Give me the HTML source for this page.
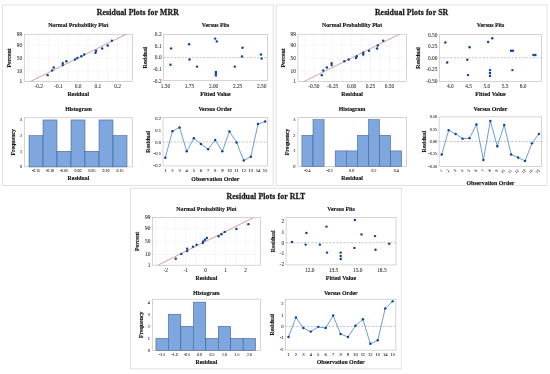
<!DOCTYPE html>
<html><head><meta charset="utf-8"><title>Residual Plots</title>
<style>
html,body{margin:0;padding:0;background:#fff;}
svg{display:block;font-family:'Liberation Serif', serif;}
</style></head><body>
<svg width="550" height="374" viewBox="0 0 550 374" style="filter:blur(0.35px)">
<rect x="0" y="0" width="550" height="374" fill="#ffffff"/>
<rect x="2.40" y="4.90" width="270.80" height="180.60" fill="#ffffff" stroke="#dedede" stroke-width="0.9"/>
<text x="137.80" y="15.10" font-size="7.75" text-anchor="middle" fill="#1a1a1a" font-weight="bold" stroke="#1a1a1a" stroke-width="0.26" letter-spacing="0.13">Residual Plots for MRR</text>
<rect x="24.25" y="34.25" width="108.05" height="47.35" fill="#fff" stroke="#b8b8b8" stroke-width="0.6"/>
<text x="78.28" y="27.20" font-size="5.85" text-anchor="middle" fill="#1a1a1a" font-weight="bold" stroke="#1a1a1a" stroke-width="0.16">Normal Probability Plot</text>
<line x1="24.25" y1="44.88" x2="132.30" y2="44.88" stroke="#dcdcdc" stroke-width="0.5" stroke-dasharray="1.2 1.2"/>
<line x1="24.25" y1="57.92" x2="132.30" y2="57.92" stroke="#dcdcdc" stroke-width="0.5" stroke-dasharray="1.2 1.2"/>
<line x1="24.25" y1="70.97" x2="132.30" y2="70.97" stroke="#dcdcdc" stroke-width="0.5" stroke-dasharray="1.2 1.2"/>
<line x1="28.90" y1="34.25" x2="28.90" y2="81.60" stroke="#dcdcdc" stroke-width="0.5" stroke-dasharray="1.2 1.2"/>
<line x1="38.75" y1="34.25" x2="38.75" y2="81.60" stroke="#dcdcdc" stroke-width="0.5" stroke-dasharray="1.2 1.2"/>
<line x1="48.60" y1="34.25" x2="48.60" y2="81.60" stroke="#dcdcdc" stroke-width="0.5" stroke-dasharray="1.2 1.2"/>
<line x1="58.45" y1="34.25" x2="58.45" y2="81.60" stroke="#dcdcdc" stroke-width="0.5" stroke-dasharray="1.2 1.2"/>
<line x1="68.30" y1="34.25" x2="68.30" y2="81.60" stroke="#dcdcdc" stroke-width="0.5" stroke-dasharray="1.2 1.2"/>
<line x1="78.15" y1="34.25" x2="78.15" y2="81.60" stroke="#dcdcdc" stroke-width="0.5" stroke-dasharray="1.2 1.2"/>
<line x1="88.00" y1="34.25" x2="88.00" y2="81.60" stroke="#dcdcdc" stroke-width="0.5" stroke-dasharray="1.2 1.2"/>
<line x1="97.85" y1="34.25" x2="97.85" y2="81.60" stroke="#dcdcdc" stroke-width="0.5" stroke-dasharray="1.2 1.2"/>
<line x1="107.70" y1="34.25" x2="107.70" y2="81.60" stroke="#dcdcdc" stroke-width="0.5" stroke-dasharray="1.2 1.2"/>
<line x1="117.55" y1="34.25" x2="117.55" y2="81.60" stroke="#dcdcdc" stroke-width="0.5" stroke-dasharray="1.2 1.2"/>
<line x1="127.40" y1="34.25" x2="127.40" y2="81.60" stroke="#dcdcdc" stroke-width="0.5" stroke-dasharray="1.2 1.2"/>
<text x="22.25" y="36.05" font-size="5.4" text-anchor="end" fill="#2c2c2c" stroke="#2c2c2c" stroke-width="0.07">99</text>
<text x="22.25" y="46.68" font-size="5.4" text-anchor="end" fill="#2c2c2c" stroke="#2c2c2c" stroke-width="0.07">90</text>
<text x="22.25" y="59.72" font-size="5.4" text-anchor="end" fill="#2c2c2c" stroke="#2c2c2c" stroke-width="0.07">50</text>
<text x="22.25" y="72.77" font-size="5.4" text-anchor="end" fill="#2c2c2c" stroke="#2c2c2c" stroke-width="0.07">10</text>
<text x="22.25" y="83.40" font-size="5.4" text-anchor="end" fill="#2c2c2c" stroke="#2c2c2c" stroke-width="0.07">1</text>
<text x="38.75" y="87.90" font-size="5.4" text-anchor="middle" fill="#2c2c2c" stroke="#2c2c2c" stroke-width="0.07">-0.2</text>
<text x="58.45" y="87.90" font-size="5.4" text-anchor="middle" fill="#2c2c2c" stroke="#2c2c2c" stroke-width="0.07">-0.1</text>
<text x="78.15" y="87.90" font-size="5.4" text-anchor="middle" fill="#2c2c2c" stroke="#2c2c2c" stroke-width="0.07">0.0</text>
<text x="97.85" y="87.90" font-size="5.4" text-anchor="middle" fill="#2c2c2c" stroke="#2c2c2c" stroke-width="0.07">0.1</text>
<text x="117.55" y="87.90" font-size="5.4" text-anchor="middle" fill="#2c2c2c" stroke="#2c2c2c" stroke-width="0.07">0.2</text>
<text x="78.28" y="96.20" font-size="5.85" text-anchor="middle" fill="#1a1a1a" font-weight="bold" stroke="#1a1a1a" stroke-width="0.16">Residual</text>
<text x="11.25" y="57.92" font-size="5.85" text-anchor="middle" fill="#1a1a1a" font-weight="bold" stroke="#1a1a1a" stroke-width="0.16" transform="rotate(-90 11.25 57.92)">Percent</text>
<clipPath id="c139664191675904"><rect x="24.25" y="34.25" width="108.05000000000001" height="47.349999999999994"/></clipPath>
<g clip-path="url(#c139664191675904)">
<line x1="16.39" y1="88.46" x2="139.91" y2="27.39" stroke="#b9504c" stroke-width="0.55"/>
</g>
<circle cx="47.62" cy="75.13" r="1.22" fill="#0a439b"/>
<circle cx="52.15" cy="70.39" r="1.22" fill="#0a439b"/>
<circle cx="53.72" cy="67.42" r="1.22" fill="#0a439b"/>
<circle cx="62.78" cy="65.10" r="1.22" fill="#0a439b"/>
<circle cx="62.78" cy="63.11" r="1.22" fill="#0a439b"/>
<circle cx="66.33" cy="61.30" r="1.22" fill="#0a439b"/>
<circle cx="75.00" cy="59.59" r="1.22" fill="#0a439b"/>
<circle cx="77.36" cy="57.92" r="1.22" fill="#0a439b"/>
<circle cx="81.30" cy="56.26" r="1.22" fill="#0a439b"/>
<circle cx="84.26" cy="54.55" r="1.22" fill="#0a439b"/>
<circle cx="95.49" cy="52.74" r="1.22" fill="#0a439b"/>
<circle cx="96.08" cy="50.75" r="1.22" fill="#0a439b"/>
<circle cx="102.18" cy="48.43" r="1.22" fill="#0a439b"/>
<circle cx="107.70" cy="45.46" r="1.22" fill="#0a439b"/>
<circle cx="111.84" cy="40.72" r="1.22" fill="#0a439b"/>
<rect x="163.60" y="34.60" width="103.90" height="46.10" fill="#fff" stroke="#b8b8b8" stroke-width="0.6"/>
<text x="215.55" y="27.20" font-size="5.85" text-anchor="middle" fill="#1a1a1a" font-weight="bold" stroke="#1a1a1a" stroke-width="0.16">Versus Fits</text>
<line x1="163.60" y1="57.65" x2="267.50" y2="57.65" stroke="#a6a6a6" stroke-width="0.7" stroke-dasharray="2.0 1.6"/>
<text x="161.60" y="36.39" font-size="5.4" text-anchor="end" fill="#2c2c2c" stroke="#2c2c2c" stroke-width="0.07">0.2</text>
<text x="161.60" y="47.92" font-size="5.4" text-anchor="end" fill="#2c2c2c" stroke="#2c2c2c" stroke-width="0.07">0.1</text>
<text x="161.60" y="59.45" font-size="5.4" text-anchor="end" fill="#2c2c2c" stroke="#2c2c2c" stroke-width="0.07">0.0</text>
<text x="161.60" y="70.98" font-size="5.4" text-anchor="end" fill="#2c2c2c" stroke="#2c2c2c" stroke-width="0.07">-0.1</text>
<text x="161.60" y="82.51" font-size="5.4" text-anchor="end" fill="#2c2c2c" stroke="#2c2c2c" stroke-width="0.07">-0.2</text>
<text x="165.50" y="87.80" font-size="5.4" text-anchor="middle" fill="#2c2c2c" stroke="#2c2c2c" stroke-width="0.07">1.50</text>
<text x="189.40" y="87.80" font-size="5.4" text-anchor="middle" fill="#2c2c2c" stroke="#2c2c2c" stroke-width="0.07">1.75</text>
<text x="213.60" y="87.80" font-size="5.4" text-anchor="middle" fill="#2c2c2c" stroke="#2c2c2c" stroke-width="0.07">2.00</text>
<text x="237.60" y="87.80" font-size="5.4" text-anchor="middle" fill="#2c2c2c" stroke="#2c2c2c" stroke-width="0.07">2.25</text>
<text x="261.80" y="87.80" font-size="5.4" text-anchor="middle" fill="#2c2c2c" stroke="#2c2c2c" stroke-width="0.07">2.50</text>
<text x="215.55" y="96.40" font-size="5.85" text-anchor="middle" fill="#1a1a1a" font-weight="bold" stroke="#1a1a1a" stroke-width="0.16">Fitted Value</text>
<text x="147.40" y="57.65" font-size="5.85" text-anchor="middle" fill="#1a1a1a" font-weight="bold" stroke="#1a1a1a" stroke-width="0.16" transform="rotate(-90 147.40 57.65)">Residual</text>
<circle cx="171.10" cy="48.40" r="1.22" fill="#0a439b"/>
<circle cx="170.50" cy="64.80" r="1.22" fill="#0a439b"/>
<circle cx="189.10" cy="44.30" r="1.22" fill="#0a439b"/>
<circle cx="189.50" cy="59.50" r="1.22" fill="#0a439b"/>
<circle cx="197.00" cy="66.60" r="1.22" fill="#0a439b"/>
<circle cx="215.20" cy="38.60" r="1.22" fill="#0a439b"/>
<circle cx="216.80" cy="41.40" r="1.22" fill="#0a439b"/>
<circle cx="215.90" cy="72.00" r="1.22" fill="#0a439b"/>
<circle cx="215.90" cy="73.60" r="1.22" fill="#0a439b"/>
<circle cx="215.90" cy="75.40" r="1.22" fill="#0a439b"/>
<circle cx="234.80" cy="66.60" r="1.22" fill="#0a439b"/>
<circle cx="242.50" cy="47.70" r="1.22" fill="#0a439b"/>
<circle cx="242.00" cy="56.40" r="1.22" fill="#0a439b"/>
<circle cx="260.90" cy="54.50" r="1.22" fill="#0a439b"/>
<circle cx="261.60" cy="58.60" r="1.22" fill="#0a439b"/>
<rect x="24.50" y="117.80" width="108.00" height="49.10" fill="#fff" stroke="#b8b8b8" stroke-width="0.6"/>
<text x="78.50" y="111.30" font-size="5.85" text-anchor="middle" fill="#1a1a1a" font-weight="bold" stroke="#1a1a1a" stroke-width="0.16">Histogram</text>
<rect x="29.00" y="135.60" width="14.00" height="31.30" fill="#7da7de" stroke="#3a5580" stroke-width="0.5"/>
<rect x="43.00" y="119.95" width="14.00" height="46.95" fill="#7da7de" stroke="#3a5580" stroke-width="0.5"/>
<rect x="57.00" y="151.25" width="14.00" height="15.65" fill="#7da7de" stroke="#3a5580" stroke-width="0.5"/>
<rect x="71.00" y="119.95" width="14.00" height="46.95" fill="#7da7de" stroke="#3a5580" stroke-width="0.5"/>
<rect x="85.00" y="151.25" width="14.00" height="15.65" fill="#7da7de" stroke="#3a5580" stroke-width="0.5"/>
<rect x="99.00" y="119.95" width="14.00" height="46.95" fill="#7da7de" stroke="#3a5580" stroke-width="0.5"/>
<rect x="113.00" y="135.60" width="14.00" height="31.30" fill="#7da7de" stroke="#3a5580" stroke-width="0.5"/>
<text x="22.10" y="168.40" font-size="4.4" text-anchor="end" fill="#2c2c2c" stroke="#2c2c2c" stroke-width="0.07">0</text>
<text x="22.10" y="152.75" font-size="4.4" text-anchor="end" fill="#2c2c2c" stroke="#2c2c2c" stroke-width="0.07">1</text>
<text x="22.10" y="137.10" font-size="4.4" text-anchor="end" fill="#2c2c2c" stroke="#2c2c2c" stroke-width="0.07">2</text>
<text x="22.10" y="121.45" font-size="4.4" text-anchor="end" fill="#2c2c2c" stroke="#2c2c2c" stroke-width="0.07">3</text>
<text x="36.00" y="172.30" font-size="3.95" text-anchor="middle" fill="#2c2c2c" stroke="#2c2c2c" stroke-width="0.07">-0.15</text>
<text x="50.00" y="172.30" font-size="3.95" text-anchor="middle" fill="#2c2c2c" stroke="#2c2c2c" stroke-width="0.07">-0.10</text>
<text x="64.00" y="172.30" font-size="3.95" text-anchor="middle" fill="#2c2c2c" stroke="#2c2c2c" stroke-width="0.07">-0.05</text>
<text x="78.00" y="172.30" font-size="3.95" text-anchor="middle" fill="#2c2c2c" stroke="#2c2c2c" stroke-width="0.07">0.00</text>
<text x="92.00" y="172.30" font-size="3.95" text-anchor="middle" fill="#2c2c2c" stroke="#2c2c2c" stroke-width="0.07">0.05</text>
<text x="106.00" y="172.30" font-size="3.95" text-anchor="middle" fill="#2c2c2c" stroke="#2c2c2c" stroke-width="0.07">0.10</text>
<text x="120.00" y="172.30" font-size="3.95" text-anchor="middle" fill="#2c2c2c" stroke="#2c2c2c" stroke-width="0.07">0.15</text>
<text x="78.50" y="179.50" font-size="5.85" text-anchor="middle" fill="#1a1a1a" font-weight="bold" stroke="#1a1a1a" stroke-width="0.16">Residual</text>
<text x="15.50" y="142.35" font-size="5.85" text-anchor="middle" fill="#1a1a1a" font-weight="bold" stroke="#1a1a1a" stroke-width="0.16" transform="rotate(-90 15.50 142.35)">Frequency</text>
<rect x="163.00" y="117.60" width="104.60" height="48.40" fill="#fff" stroke="#b8b8b8" stroke-width="0.6"/>
<text x="215.30" y="111.30" font-size="5.85" text-anchor="middle" fill="#1a1a1a" font-weight="bold" stroke="#1a1a1a" stroke-width="0.16">Versus Order</text>
<line x1="163.00" y1="142.00" x2="267.60" y2="142.00" stroke="#a6a6a6" stroke-width="0.7" stroke-dasharray="2.0 1.6"/>
<text x="161.00" y="119.60" font-size="4.7" text-anchor="end" fill="#2c2c2c" stroke="#2c2c2c" stroke-width="0.07">0.2</text>
<text x="161.00" y="131.55" font-size="4.7" text-anchor="end" fill="#2c2c2c" stroke="#2c2c2c" stroke-width="0.07">0.1</text>
<text x="161.00" y="143.50" font-size="4.7" text-anchor="end" fill="#2c2c2c" stroke="#2c2c2c" stroke-width="0.07">0.0</text>
<text x="161.00" y="155.45" font-size="4.7" text-anchor="end" fill="#2c2c2c" stroke="#2c2c2c" stroke-width="0.07">-0.1</text>
<text x="161.00" y="167.40" font-size="4.7" text-anchor="end" fill="#2c2c2c" stroke="#2c2c2c" stroke-width="0.07">-0.2</text>
<text x="165.30" y="172.30" font-size="4.7" text-anchor="middle" fill="#2c2c2c" stroke="#2c2c2c" stroke-width="0.07">1</text>
<text x="172.43" y="172.30" font-size="4.7" text-anchor="middle" fill="#2c2c2c" stroke="#2c2c2c" stroke-width="0.07">2</text>
<text x="179.56" y="172.30" font-size="4.7" text-anchor="middle" fill="#2c2c2c" stroke="#2c2c2c" stroke-width="0.07">3</text>
<text x="186.69" y="172.30" font-size="4.7" text-anchor="middle" fill="#2c2c2c" stroke="#2c2c2c" stroke-width="0.07">4</text>
<text x="193.82" y="172.30" font-size="4.7" text-anchor="middle" fill="#2c2c2c" stroke="#2c2c2c" stroke-width="0.07">5</text>
<text x="200.95" y="172.30" font-size="4.7" text-anchor="middle" fill="#2c2c2c" stroke="#2c2c2c" stroke-width="0.07">6</text>
<text x="208.08" y="172.30" font-size="4.7" text-anchor="middle" fill="#2c2c2c" stroke="#2c2c2c" stroke-width="0.07">7</text>
<text x="215.21" y="172.30" font-size="4.7" text-anchor="middle" fill="#2c2c2c" stroke="#2c2c2c" stroke-width="0.07">8</text>
<text x="222.34" y="172.30" font-size="4.7" text-anchor="middle" fill="#2c2c2c" stroke="#2c2c2c" stroke-width="0.07">9</text>
<text x="229.47" y="172.30" font-size="4.7" text-anchor="middle" fill="#2c2c2c" stroke="#2c2c2c" stroke-width="0.07">10</text>
<text x="236.60" y="172.30" font-size="4.7" text-anchor="middle" fill="#2c2c2c" stroke="#2c2c2c" stroke-width="0.07">11</text>
<text x="243.73" y="172.30" font-size="4.7" text-anchor="middle" fill="#2c2c2c" stroke="#2c2c2c" stroke-width="0.07">12</text>
<text x="250.86" y="172.30" font-size="4.7" text-anchor="middle" fill="#2c2c2c" stroke="#2c2c2c" stroke-width="0.07">13</text>
<text x="257.99" y="172.30" font-size="4.7" text-anchor="middle" fill="#2c2c2c" stroke="#2c2c2c" stroke-width="0.07">14</text>
<text x="265.12" y="172.30" font-size="4.7" text-anchor="middle" fill="#2c2c2c" stroke="#2c2c2c" stroke-width="0.07">15</text>
<text x="215.30" y="180.60" font-size="5.85" text-anchor="middle" fill="#1a1a1a" font-weight="bold" stroke="#1a1a1a" stroke-width="0.16">Observation Order</text>
<text x="149.80" y="141.80" font-size="5.85" text-anchor="middle" fill="#1a1a1a" font-weight="bold" stroke="#1a1a1a" stroke-width="0.16" transform="rotate(-90 149.80 141.80)">Residual</text>
<polyline fill="none" stroke="#2f74bd" stroke-width="0.7" points="165.30,157.77 172.43,131.13 179.56,127.42 186.69,151.32 193.82,138.30 200.95,143.91 208.08,149.17 215.21,140.09 222.34,151.32 229.47,131.48 236.60,142.48 243.73,160.52 250.86,156.82 257.99,124.08 265.12,121.57"/>
<circle cx="165.30" cy="157.77" r="1.22" fill="#0a439b"/>
<circle cx="172.43" cy="131.13" r="1.22" fill="#0a439b"/>
<circle cx="179.56" cy="127.42" r="1.22" fill="#0a439b"/>
<circle cx="186.69" cy="151.32" r="1.22" fill="#0a439b"/>
<circle cx="193.82" cy="138.30" r="1.22" fill="#0a439b"/>
<circle cx="200.95" cy="143.91" r="1.22" fill="#0a439b"/>
<circle cx="208.08" cy="149.17" r="1.22" fill="#0a439b"/>
<circle cx="215.21" cy="140.09" r="1.22" fill="#0a439b"/>
<circle cx="222.34" cy="151.32" r="1.22" fill="#0a439b"/>
<circle cx="229.47" cy="131.48" r="1.22" fill="#0a439b"/>
<circle cx="236.60" cy="142.48" r="1.22" fill="#0a439b"/>
<circle cx="243.73" cy="160.52" r="1.22" fill="#0a439b"/>
<circle cx="250.86" cy="156.82" r="1.22" fill="#0a439b"/>
<circle cx="257.99" cy="124.08" r="1.22" fill="#0a439b"/>
<circle cx="265.12" cy="121.57" r="1.22" fill="#0a439b"/>
<rect x="276.20" y="4.90" width="270.80" height="180.60" fill="#ffffff" stroke="#dedede" stroke-width="0.9"/>
<text x="411.60" y="15.10" font-size="7.75" text-anchor="middle" fill="#1a1a1a" font-weight="bold" stroke="#1a1a1a" stroke-width="0.26" letter-spacing="0.13">Residual Plots for SR</text>
<rect x="297.90" y="34.25" width="108.40" height="47.35" fill="#fff" stroke="#b8b8b8" stroke-width="0.6"/>
<text x="352.10" y="27.20" font-size="5.85" text-anchor="middle" fill="#1a1a1a" font-weight="bold" stroke="#1a1a1a" stroke-width="0.16">Normal Probability Plot</text>
<line x1="297.90" y1="44.88" x2="406.30" y2="44.88" stroke="#dcdcdc" stroke-width="0.5" stroke-dasharray="1.2 1.2"/>
<line x1="297.90" y1="57.92" x2="406.30" y2="57.92" stroke="#dcdcdc" stroke-width="0.5" stroke-dasharray="1.2 1.2"/>
<line x1="297.90" y1="70.97" x2="406.30" y2="70.97" stroke="#dcdcdc" stroke-width="0.5" stroke-dasharray="1.2 1.2"/>
<line x1="304.29" y1="34.25" x2="304.29" y2="81.60" stroke="#dcdcdc" stroke-width="0.5" stroke-dasharray="1.2 1.2"/>
<line x1="313.75" y1="34.25" x2="313.75" y2="81.60" stroke="#dcdcdc" stroke-width="0.5" stroke-dasharray="1.2 1.2"/>
<line x1="323.21" y1="34.25" x2="323.21" y2="81.60" stroke="#dcdcdc" stroke-width="0.5" stroke-dasharray="1.2 1.2"/>
<line x1="332.68" y1="34.25" x2="332.68" y2="81.60" stroke="#dcdcdc" stroke-width="0.5" stroke-dasharray="1.2 1.2"/>
<line x1="342.14" y1="34.25" x2="342.14" y2="81.60" stroke="#dcdcdc" stroke-width="0.5" stroke-dasharray="1.2 1.2"/>
<line x1="351.60" y1="34.25" x2="351.60" y2="81.60" stroke="#dcdcdc" stroke-width="0.5" stroke-dasharray="1.2 1.2"/>
<line x1="361.06" y1="34.25" x2="361.06" y2="81.60" stroke="#dcdcdc" stroke-width="0.5" stroke-dasharray="1.2 1.2"/>
<line x1="370.53" y1="34.25" x2="370.53" y2="81.60" stroke="#dcdcdc" stroke-width="0.5" stroke-dasharray="1.2 1.2"/>
<line x1="379.99" y1="34.25" x2="379.99" y2="81.60" stroke="#dcdcdc" stroke-width="0.5" stroke-dasharray="1.2 1.2"/>
<line x1="389.45" y1="34.25" x2="389.45" y2="81.60" stroke="#dcdcdc" stroke-width="0.5" stroke-dasharray="1.2 1.2"/>
<line x1="398.91" y1="34.25" x2="398.91" y2="81.60" stroke="#dcdcdc" stroke-width="0.5" stroke-dasharray="1.2 1.2"/>
<text x="295.90" y="36.05" font-size="5.4" text-anchor="end" fill="#2c2c2c" stroke="#2c2c2c" stroke-width="0.07">99</text>
<text x="295.90" y="46.68" font-size="5.4" text-anchor="end" fill="#2c2c2c" stroke="#2c2c2c" stroke-width="0.07">90</text>
<text x="295.90" y="59.72" font-size="5.4" text-anchor="end" fill="#2c2c2c" stroke="#2c2c2c" stroke-width="0.07">50</text>
<text x="295.90" y="72.77" font-size="5.4" text-anchor="end" fill="#2c2c2c" stroke="#2c2c2c" stroke-width="0.07">10</text>
<text x="295.90" y="83.40" font-size="5.4" text-anchor="end" fill="#2c2c2c" stroke="#2c2c2c" stroke-width="0.07">1</text>
<text x="313.75" y="87.90" font-size="5.4" text-anchor="middle" fill="#2c2c2c" stroke="#2c2c2c" stroke-width="0.07">-0.50</text>
<text x="332.68" y="87.90" font-size="5.4" text-anchor="middle" fill="#2c2c2c" stroke="#2c2c2c" stroke-width="0.07">-0.25</text>
<text x="351.60" y="87.90" font-size="5.4" text-anchor="middle" fill="#2c2c2c" stroke="#2c2c2c" stroke-width="0.07">0.00</text>
<text x="370.53" y="87.90" font-size="5.4" text-anchor="middle" fill="#2c2c2c" stroke="#2c2c2c" stroke-width="0.07">0.25</text>
<text x="389.45" y="87.90" font-size="5.4" text-anchor="middle" fill="#2c2c2c" stroke="#2c2c2c" stroke-width="0.07">0.50</text>
<text x="352.10" y="96.20" font-size="5.85" text-anchor="middle" fill="#1a1a1a" font-weight="bold" stroke="#1a1a1a" stroke-width="0.16">Residual</text>
<text x="284.90" y="57.92" font-size="5.85" text-anchor="middle" fill="#1a1a1a" font-weight="bold" stroke="#1a1a1a" stroke-width="0.16" transform="rotate(-90 284.90 57.92)">Percent</text>
<clipPath id="c139664191741184"><rect x="297.9" y="34.25" width="108.40000000000003" height="47.349999999999994"/></clipPath>
<g clip-path="url(#c139664191741184)">
<line x1="290.06" y1="88.46" x2="413.14" y2="27.39" stroke="#b9504c" stroke-width="0.55"/>
</g>
<circle cx="321.77" cy="75.13" r="1.22" fill="#0a439b"/>
<circle cx="323.21" cy="70.39" r="1.22" fill="#0a439b"/>
<circle cx="326.85" cy="67.42" r="1.22" fill="#0a439b"/>
<circle cx="331.62" cy="65.10" r="1.22" fill="#0a439b"/>
<circle cx="331.62" cy="63.11" r="1.22" fill="#0a439b"/>
<circle cx="344.33" cy="61.30" r="1.22" fill="#0a439b"/>
<circle cx="348.72" cy="59.59" r="1.22" fill="#0a439b"/>
<circle cx="355.99" cy="57.92" r="1.22" fill="#0a439b"/>
<circle cx="356.75" cy="56.26" r="1.22" fill="#0a439b"/>
<circle cx="363.26" cy="54.55" r="1.22" fill="#0a439b"/>
<circle cx="363.26" cy="52.74" r="1.22" fill="#0a439b"/>
<circle cx="369.09" cy="50.75" r="1.22" fill="#0a439b"/>
<circle cx="377.04" cy="48.43" r="1.22" fill="#0a439b"/>
<circle cx="377.79" cy="45.46" r="1.22" fill="#0a439b"/>
<circle cx="383.24" cy="40.72" r="1.22" fill="#0a439b"/>
<rect x="439.50" y="34.60" width="102.10" height="46.70" fill="#fff" stroke="#b8b8b8" stroke-width="0.6"/>
<text x="490.55" y="27.20" font-size="5.85" text-anchor="middle" fill="#1a1a1a" font-weight="bold" stroke="#1a1a1a" stroke-width="0.16">Versus Fits</text>
<line x1="439.50" y1="57.70" x2="541.60" y2="57.70" stroke="#a6a6a6" stroke-width="0.7" stroke-dasharray="2.0 1.6"/>
<text x="437.50" y="36.50" font-size="5.4" text-anchor="end" fill="#2c2c2c" stroke="#2c2c2c" stroke-width="0.07">0.50</text>
<text x="437.50" y="48.00" font-size="5.4" text-anchor="end" fill="#2c2c2c" stroke="#2c2c2c" stroke-width="0.07">0.25</text>
<text x="437.50" y="59.50" font-size="5.4" text-anchor="end" fill="#2c2c2c" stroke="#2c2c2c" stroke-width="0.07">0.00</text>
<text x="437.50" y="71.00" font-size="5.4" text-anchor="end" fill="#2c2c2c" stroke="#2c2c2c" stroke-width="0.07">-0.25</text>
<text x="437.50" y="82.50" font-size="5.4" text-anchor="end" fill="#2c2c2c" stroke="#2c2c2c" stroke-width="0.07">-0.50</text>
<text x="450.30" y="88.40" font-size="5.4" text-anchor="middle" fill="#2c2c2c" stroke="#2c2c2c" stroke-width="0.07">4.0</text>
<text x="468.50" y="88.40" font-size="5.4" text-anchor="middle" fill="#2c2c2c" stroke="#2c2c2c" stroke-width="0.07">4.5</text>
<text x="486.90" y="88.40" font-size="5.4" text-anchor="middle" fill="#2c2c2c" stroke="#2c2c2c" stroke-width="0.07">5.0</text>
<text x="505.10" y="88.40" font-size="5.4" text-anchor="middle" fill="#2c2c2c" stroke="#2c2c2c" stroke-width="0.07">5.5</text>
<text x="523.10" y="88.40" font-size="5.4" text-anchor="middle" fill="#2c2c2c" stroke="#2c2c2c" stroke-width="0.07">6.0</text>
<text x="490.55" y="96.30" font-size="5.85" text-anchor="middle" fill="#1a1a1a" font-weight="bold" stroke="#1a1a1a" stroke-width="0.16">Fitted Value</text>
<text x="420.40" y="57.95" font-size="5.85" text-anchor="middle" fill="#1a1a1a" font-weight="bold" stroke="#1a1a1a" stroke-width="0.16" transform="rotate(-90 420.40 57.95)">Residual</text>
<circle cx="445.30" cy="42.50" r="1.22" fill="#0a439b"/>
<circle cx="447.20" cy="62.55" r="1.22" fill="#0a439b"/>
<circle cx="467.30" cy="59.70" r="1.22" fill="#0a439b"/>
<circle cx="469.60" cy="47.20" r="1.22" fill="#0a439b"/>
<circle cx="468.00" cy="75.10" r="1.22" fill="#0a439b"/>
<circle cx="488.10" cy="42.00" r="1.22" fill="#0a439b"/>
<circle cx="492.30" cy="38.20" r="1.22" fill="#0a439b"/>
<circle cx="490.00" cy="70.10" r="1.22" fill="#0a439b"/>
<circle cx="490.00" cy="72.95" r="1.22" fill="#0a439b"/>
<circle cx="490.00" cy="76.00" r="1.22" fill="#0a439b"/>
<circle cx="511.00" cy="50.70" r="1.22" fill="#0a439b"/>
<circle cx="512.90" cy="50.70" r="1.22" fill="#0a439b"/>
<circle cx="512.40" cy="70.10" r="1.22" fill="#0a439b"/>
<circle cx="533.50" cy="55.00" r="1.22" fill="#0a439b"/>
<circle cx="535.40" cy="55.00" r="1.22" fill="#0a439b"/>
<rect x="297.90" y="117.50" width="108.40" height="49.00" fill="#fff" stroke="#b8b8b8" stroke-width="0.6"/>
<text x="352.10" y="111.30" font-size="5.85" text-anchor="middle" fill="#1a1a1a" font-weight="bold" stroke="#1a1a1a" stroke-width="0.16">Histogram</text>
<rect x="301.90" y="135.30" width="11.09" height="31.20" fill="#7da7de" stroke="#3a5580" stroke-width="0.5"/>
<rect x="312.99" y="119.70" width="11.09" height="46.80" fill="#7da7de" stroke="#3a5580" stroke-width="0.5"/>
<rect x="335.17" y="150.90" width="11.09" height="15.60" fill="#7da7de" stroke="#3a5580" stroke-width="0.5"/>
<rect x="346.26" y="150.90" width="11.09" height="15.60" fill="#7da7de" stroke="#3a5580" stroke-width="0.5"/>
<rect x="357.35" y="135.30" width="11.09" height="31.20" fill="#7da7de" stroke="#3a5580" stroke-width="0.5"/>
<rect x="368.44" y="119.70" width="11.09" height="46.80" fill="#7da7de" stroke="#3a5580" stroke-width="0.5"/>
<rect x="379.53" y="135.30" width="11.09" height="31.20" fill="#7da7de" stroke="#3a5580" stroke-width="0.5"/>
<rect x="390.62" y="150.90" width="11.09" height="15.60" fill="#7da7de" stroke="#3a5580" stroke-width="0.5"/>
<text x="295.50" y="168.00" font-size="4.4" text-anchor="end" fill="#2c2c2c" stroke="#2c2c2c" stroke-width="0.07">0</text>
<text x="295.50" y="152.40" font-size="4.4" text-anchor="end" fill="#2c2c2c" stroke="#2c2c2c" stroke-width="0.07">1</text>
<text x="295.50" y="136.80" font-size="4.4" text-anchor="end" fill="#2c2c2c" stroke="#2c2c2c" stroke-width="0.07">2</text>
<text x="295.50" y="121.20" font-size="4.4" text-anchor="end" fill="#2c2c2c" stroke="#2c2c2c" stroke-width="0.07">3</text>
<text x="307.44" y="171.90" font-size="3.95" text-anchor="middle" fill="#2c2c2c" stroke="#2c2c2c" stroke-width="0.07">-0.4</text>
<text x="329.62" y="171.90" font-size="3.95" text-anchor="middle" fill="#2c2c2c" stroke="#2c2c2c" stroke-width="0.07">-0.2</text>
<text x="351.80" y="171.90" font-size="3.95" text-anchor="middle" fill="#2c2c2c" stroke="#2c2c2c" stroke-width="0.07">0.0</text>
<text x="373.98" y="171.90" font-size="3.95" text-anchor="middle" fill="#2c2c2c" stroke="#2c2c2c" stroke-width="0.07">0.2</text>
<text x="396.16" y="171.90" font-size="3.95" text-anchor="middle" fill="#2c2c2c" stroke="#2c2c2c" stroke-width="0.07">0.4</text>
<text x="352.10" y="180.10" font-size="5.85" text-anchor="middle" fill="#1a1a1a" font-weight="bold" stroke="#1a1a1a" stroke-width="0.16">Residual</text>
<text x="288.90" y="142.00" font-size="5.85" text-anchor="middle" fill="#1a1a1a" font-weight="bold" stroke="#1a1a1a" stroke-width="0.16" transform="rotate(-90 288.90 142.00)">Frequency</text>
<rect x="439.10" y="116.90" width="102.60" height="49.40" fill="#fff" stroke="#b8b8b8" stroke-width="0.6"/>
<text x="490.40" y="111.30" font-size="5.85" text-anchor="middle" fill="#1a1a1a" font-weight="bold" stroke="#1a1a1a" stroke-width="0.16">Versus Order</text>
<line x1="439.10" y1="141.50" x2="541.70" y2="141.50" stroke="#a6a6a6" stroke-width="0.7" stroke-dasharray="2.0 1.6"/>
<text x="437.10" y="118.40" font-size="4.2" text-anchor="end" fill="#2c2c2c" stroke="#2c2c2c" stroke-width="0.07">0.50</text>
<text x="437.10" y="130.70" font-size="4.2" text-anchor="end" fill="#2c2c2c" stroke="#2c2c2c" stroke-width="0.07">0.25</text>
<text x="437.10" y="143.00" font-size="4.2" text-anchor="end" fill="#2c2c2c" stroke="#2c2c2c" stroke-width="0.07">0.00</text>
<text x="437.10" y="155.30" font-size="4.2" text-anchor="end" fill="#2c2c2c" stroke="#2c2c2c" stroke-width="0.07">-0.25</text>
<text x="437.10" y="167.60" font-size="4.2" text-anchor="end" fill="#2c2c2c" stroke="#2c2c2c" stroke-width="0.07">-0.50</text>
<text x="442.75" y="170.80" font-size="4.0" text-anchor="end" fill="#2c2c2c" stroke="#2c2c2c" stroke-width="0.07" transform="rotate(-45 442.75 170.80)">1</text>
<text x="449.69" y="170.80" font-size="4.0" text-anchor="end" fill="#2c2c2c" stroke="#2c2c2c" stroke-width="0.07" transform="rotate(-45 449.69 170.80)">2</text>
<text x="456.63" y="170.80" font-size="4.0" text-anchor="end" fill="#2c2c2c" stroke="#2c2c2c" stroke-width="0.07" transform="rotate(-45 456.63 170.80)">3</text>
<text x="463.57" y="170.80" font-size="4.0" text-anchor="end" fill="#2c2c2c" stroke="#2c2c2c" stroke-width="0.07" transform="rotate(-45 463.57 170.80)">4</text>
<text x="470.51" y="170.80" font-size="4.0" text-anchor="end" fill="#2c2c2c" stroke="#2c2c2c" stroke-width="0.07" transform="rotate(-45 470.51 170.80)">5</text>
<text x="477.45" y="170.80" font-size="4.0" text-anchor="end" fill="#2c2c2c" stroke="#2c2c2c" stroke-width="0.07" transform="rotate(-45 477.45 170.80)">6</text>
<text x="484.39" y="170.80" font-size="4.0" text-anchor="end" fill="#2c2c2c" stroke="#2c2c2c" stroke-width="0.07" transform="rotate(-45 484.39 170.80)">7</text>
<text x="491.33" y="170.80" font-size="4.0" text-anchor="end" fill="#2c2c2c" stroke="#2c2c2c" stroke-width="0.07" transform="rotate(-45 491.33 170.80)">8</text>
<text x="498.27" y="170.80" font-size="4.0" text-anchor="end" fill="#2c2c2c" stroke="#2c2c2c" stroke-width="0.07" transform="rotate(-45 498.27 170.80)">9</text>
<text x="505.21" y="170.80" font-size="4.0" text-anchor="end" fill="#2c2c2c" stroke="#2c2c2c" stroke-width="0.07" transform="rotate(-45 505.21 170.80)">10</text>
<text x="512.15" y="170.80" font-size="4.0" text-anchor="end" fill="#2c2c2c" stroke="#2c2c2c" stroke-width="0.07" transform="rotate(-45 512.15 170.80)">11</text>
<text x="519.09" y="170.80" font-size="4.0" text-anchor="end" fill="#2c2c2c" stroke="#2c2c2c" stroke-width="0.07" transform="rotate(-45 519.09 170.80)">12</text>
<text x="526.03" y="170.80" font-size="4.0" text-anchor="end" fill="#2c2c2c" stroke="#2c2c2c" stroke-width="0.07" transform="rotate(-45 526.03 170.80)">13</text>
<text x="532.97" y="170.80" font-size="4.0" text-anchor="end" fill="#2c2c2c" stroke="#2c2c2c" stroke-width="0.07" transform="rotate(-45 532.97 170.80)">14</text>
<text x="539.91" y="170.80" font-size="4.0" text-anchor="end" fill="#2c2c2c" stroke="#2c2c2c" stroke-width="0.07" transform="rotate(-45 539.91 170.80)">15</text>
<text x="490.40" y="184.60" font-size="5.85" text-anchor="middle" fill="#1a1a1a" font-weight="bold" stroke="#1a1a1a" stroke-width="0.16">Observation Order</text>
<text x="425.60" y="141.60" font-size="5.85" text-anchor="middle" fill="#1a1a1a" font-weight="bold" stroke="#1a1a1a" stroke-width="0.16" transform="rotate(-90 425.60 141.60)">Residual</text>
<polyline fill="none" stroke="#2f74bd" stroke-width="0.7" points="441.75,154.49 448.69,130.13 455.63,133.92 462.57,138.65 469.51,138.15 476.45,124.48 483.39,159.95 490.33,120.93 497.27,146.22 504.21,124.97 511.15,154.49 518.09,157.59 525.03,160.88 531.97,143.37 538.91,133.92"/>
<circle cx="441.75" cy="154.49" r="1.22" fill="#0a439b"/>
<circle cx="448.69" cy="130.13" r="1.22" fill="#0a439b"/>
<circle cx="455.63" cy="133.92" r="1.22" fill="#0a439b"/>
<circle cx="462.57" cy="138.65" r="1.22" fill="#0a439b"/>
<circle cx="469.51" cy="138.15" r="1.22" fill="#0a439b"/>
<circle cx="476.45" cy="124.48" r="1.22" fill="#0a439b"/>
<circle cx="483.39" cy="159.95" r="1.22" fill="#0a439b"/>
<circle cx="490.33" cy="120.93" r="1.22" fill="#0a439b"/>
<circle cx="497.27" cy="146.22" r="1.22" fill="#0a439b"/>
<circle cx="504.21" cy="124.97" r="1.22" fill="#0a439b"/>
<circle cx="511.15" cy="154.49" r="1.22" fill="#0a439b"/>
<circle cx="518.09" cy="157.59" r="1.22" fill="#0a439b"/>
<circle cx="525.03" cy="160.88" r="1.22" fill="#0a439b"/>
<circle cx="531.97" cy="143.37" r="1.22" fill="#0a439b"/>
<circle cx="538.91" cy="133.92" r="1.22" fill="#0a439b"/>
<rect x="130.50" y="188.30" width="270.80" height="180.60" fill="#ffffff" stroke="#dedede" stroke-width="0.9"/>
<text x="265.90" y="198.50" font-size="7.75" text-anchor="middle" fill="#1a1a1a" font-weight="bold" stroke="#1a1a1a" stroke-width="0.26" letter-spacing="0.13">Residual Plots for RLT</text>
<rect x="152.40" y="217.65" width="108.00" height="47.55" fill="#fff" stroke="#b8b8b8" stroke-width="0.6"/>
<text x="206.40" y="210.60" font-size="5.85" text-anchor="middle" fill="#1a1a1a" font-weight="bold" stroke="#1a1a1a" stroke-width="0.16">Normal Probability Plot</text>
<line x1="152.40" y1="228.33" x2="260.40" y2="228.33" stroke="#dcdcdc" stroke-width="0.5" stroke-dasharray="1.2 1.2"/>
<line x1="152.40" y1="241.43" x2="260.40" y2="241.43" stroke="#dcdcdc" stroke-width="0.5" stroke-dasharray="1.2 1.2"/>
<line x1="152.40" y1="254.52" x2="260.40" y2="254.52" stroke="#dcdcdc" stroke-width="0.5" stroke-dasharray="1.2 1.2"/>
<line x1="155.82" y1="217.65" x2="155.82" y2="265.20" stroke="#dcdcdc" stroke-width="0.5" stroke-dasharray="1.2 1.2"/>
<line x1="165.80" y1="217.65" x2="165.80" y2="265.20" stroke="#dcdcdc" stroke-width="0.5" stroke-dasharray="1.2 1.2"/>
<line x1="175.77" y1="217.65" x2="175.77" y2="265.20" stroke="#dcdcdc" stroke-width="0.5" stroke-dasharray="1.2 1.2"/>
<line x1="185.75" y1="217.65" x2="185.75" y2="265.20" stroke="#dcdcdc" stroke-width="0.5" stroke-dasharray="1.2 1.2"/>
<line x1="195.72" y1="217.65" x2="195.72" y2="265.20" stroke="#dcdcdc" stroke-width="0.5" stroke-dasharray="1.2 1.2"/>
<line x1="205.70" y1="217.65" x2="205.70" y2="265.20" stroke="#dcdcdc" stroke-width="0.5" stroke-dasharray="1.2 1.2"/>
<line x1="215.67" y1="217.65" x2="215.67" y2="265.20" stroke="#dcdcdc" stroke-width="0.5" stroke-dasharray="1.2 1.2"/>
<line x1="225.65" y1="217.65" x2="225.65" y2="265.20" stroke="#dcdcdc" stroke-width="0.5" stroke-dasharray="1.2 1.2"/>
<line x1="235.62" y1="217.65" x2="235.62" y2="265.20" stroke="#dcdcdc" stroke-width="0.5" stroke-dasharray="1.2 1.2"/>
<line x1="245.60" y1="217.65" x2="245.60" y2="265.20" stroke="#dcdcdc" stroke-width="0.5" stroke-dasharray="1.2 1.2"/>
<line x1="255.57" y1="217.65" x2="255.57" y2="265.20" stroke="#dcdcdc" stroke-width="0.5" stroke-dasharray="1.2 1.2"/>
<text x="150.40" y="219.45" font-size="5.4" text-anchor="end" fill="#2c2c2c" stroke="#2c2c2c" stroke-width="0.07">99</text>
<text x="150.40" y="230.13" font-size="5.4" text-anchor="end" fill="#2c2c2c" stroke="#2c2c2c" stroke-width="0.07">90</text>
<text x="150.40" y="243.23" font-size="5.4" text-anchor="end" fill="#2c2c2c" stroke="#2c2c2c" stroke-width="0.07">50</text>
<text x="150.40" y="256.32" font-size="5.4" text-anchor="end" fill="#2c2c2c" stroke="#2c2c2c" stroke-width="0.07">10</text>
<text x="150.40" y="267.00" font-size="5.4" text-anchor="end" fill="#2c2c2c" stroke="#2c2c2c" stroke-width="0.07">1</text>
<text x="165.80" y="271.50" font-size="5.4" text-anchor="middle" fill="#2c2c2c" stroke="#2c2c2c" stroke-width="0.07">-2</text>
<text x="185.75" y="271.50" font-size="5.4" text-anchor="middle" fill="#2c2c2c" stroke="#2c2c2c" stroke-width="0.07">-1</text>
<text x="205.70" y="271.50" font-size="5.4" text-anchor="middle" fill="#2c2c2c" stroke="#2c2c2c" stroke-width="0.07">0</text>
<text x="225.65" y="271.50" font-size="5.4" text-anchor="middle" fill="#2c2c2c" stroke="#2c2c2c" stroke-width="0.07">1</text>
<text x="245.60" y="271.50" font-size="5.4" text-anchor="middle" fill="#2c2c2c" stroke="#2c2c2c" stroke-width="0.07">2</text>
<text x="206.40" y="279.80" font-size="5.85" text-anchor="middle" fill="#1a1a1a" font-weight="bold" stroke="#1a1a1a" stroke-width="0.16">Residual</text>
<text x="139.40" y="241.43" font-size="5.85" text-anchor="middle" fill="#1a1a1a" font-weight="bold" stroke="#1a1a1a" stroke-width="0.16" transform="rotate(-90 139.40 241.43)">Percent</text>
<clipPath id="c139664191955328"><rect x="152.4" y="217.65" width="107.99999999999997" height="47.54999999999998"/></clipPath>
<g clip-path="url(#c139664191955328)">
<line x1="144.05" y1="272.09" x2="267.35" y2="210.76" stroke="#b9504c" stroke-width="0.55"/>
</g>
<circle cx="175.77" cy="258.70" r="1.22" fill="#0a439b"/>
<circle cx="181.36" cy="253.94" r="1.22" fill="#0a439b"/>
<circle cx="187.15" cy="250.96" r="1.22" fill="#0a439b"/>
<circle cx="187.15" cy="248.63" r="1.22" fill="#0a439b"/>
<circle cx="192.93" cy="246.63" r="1.22" fill="#0a439b"/>
<circle cx="196.60" cy="244.81" r="1.22" fill="#0a439b"/>
<circle cx="202.81" cy="243.10" r="1.22" fill="#0a439b"/>
<circle cx="203.11" cy="241.43" r="1.22" fill="#0a439b"/>
<circle cx="204.90" cy="239.75" r="1.22" fill="#0a439b"/>
<circle cx="206.90" cy="238.04" r="1.22" fill="#0a439b"/>
<circle cx="218.67" cy="236.22" r="1.22" fill="#0a439b"/>
<circle cx="221.46" cy="234.22" r="1.22" fill="#0a439b"/>
<circle cx="224.71" cy="231.89" r="1.22" fill="#0a439b"/>
<circle cx="236.42" cy="228.91" r="1.22" fill="#0a439b"/>
<circle cx="248.39" cy="224.15" r="1.22" fill="#0a439b"/>
<rect x="286.10" y="217.65" width="109.90" height="47.25" fill="#fff" stroke="#b8b8b8" stroke-width="0.6"/>
<text x="341.05" y="210.60" font-size="5.85" text-anchor="middle" fill="#1a1a1a" font-weight="bold" stroke="#1a1a1a" stroke-width="0.16">Versus Fits</text>
<line x1="286.10" y1="242.70" x2="396.00" y2="242.70" stroke="#a6a6a6" stroke-width="0.7" stroke-dasharray="2.0 1.6"/>
<text x="284.10" y="223.10" font-size="5.4" text-anchor="end" fill="#2c2c2c" stroke="#2c2c2c" stroke-width="0.07">2</text>
<text x="284.10" y="233.80" font-size="5.4" text-anchor="end" fill="#2c2c2c" stroke="#2c2c2c" stroke-width="0.07">1</text>
<text x="284.10" y="244.50" font-size="5.4" text-anchor="end" fill="#2c2c2c" stroke="#2c2c2c" stroke-width="0.07">0</text>
<text x="284.10" y="255.20" font-size="5.4" text-anchor="end" fill="#2c2c2c" stroke="#2c2c2c" stroke-width="0.07">-1</text>
<text x="284.10" y="265.90" font-size="5.4" text-anchor="end" fill="#2c2c2c" stroke="#2c2c2c" stroke-width="0.07">-2</text>
<text x="309.75" y="272.00" font-size="5.4" text-anchor="middle" fill="#2c2c2c" stroke="#2c2c2c" stroke-width="0.07">12.0</text>
<text x="333.60" y="272.00" font-size="5.4" text-anchor="middle" fill="#2c2c2c" stroke="#2c2c2c" stroke-width="0.07">13.5</text>
<text x="357.70" y="272.00" font-size="5.4" text-anchor="middle" fill="#2c2c2c" stroke="#2c2c2c" stroke-width="0.07">15.0</text>
<text x="381.90" y="272.00" font-size="5.4" text-anchor="middle" fill="#2c2c2c" stroke="#2c2c2c" stroke-width="0.07">16.5</text>
<text x="341.05" y="279.90" font-size="5.85" text-anchor="middle" fill="#1a1a1a" font-weight="bold" stroke="#1a1a1a" stroke-width="0.16">Fitted Value</text>
<text x="274.80" y="241.27" font-size="5.85" text-anchor="middle" fill="#1a1a1a" font-weight="bold" stroke="#1a1a1a" stroke-width="0.16" transform="rotate(-90 274.80 241.27)">Residual</text>
<circle cx="292.00" cy="242.00" r="1.22" fill="#0a439b"/>
<circle cx="306.40" cy="233.00" r="1.22" fill="#0a439b"/>
<circle cx="305.70" cy="244.60" r="1.22" fill="#0a439b"/>
<circle cx="319.90" cy="244.60" r="1.22" fill="#0a439b"/>
<circle cx="326.50" cy="226.60" r="1.22" fill="#0a439b"/>
<circle cx="327.00" cy="252.60" r="1.22" fill="#0a439b"/>
<circle cx="340.70" cy="252.60" r="1.22" fill="#0a439b"/>
<circle cx="340.70" cy="256.00" r="1.22" fill="#0a439b"/>
<circle cx="340.70" cy="259.00" r="1.22" fill="#0a439b"/>
<circle cx="354.90" cy="220.00" r="1.22" fill="#0a439b"/>
<circle cx="354.40" cy="247.90" r="1.22" fill="#0a439b"/>
<circle cx="361.50" cy="234.40" r="1.22" fill="#0a439b"/>
<circle cx="375.00" cy="236.10" r="1.22" fill="#0a439b"/>
<circle cx="375.50" cy="249.80" r="1.22" fill="#0a439b"/>
<circle cx="389.20" cy="243.70" r="1.22" fill="#0a439b"/>
<rect x="152.40" y="299.20" width="108.00" height="51.30" fill="#fff" stroke="#b8b8b8" stroke-width="0.6"/>
<text x="206.40" y="294.70" font-size="5.85" text-anchor="middle" fill="#1a1a1a" font-weight="bold" stroke="#1a1a1a" stroke-width="0.16">Histogram</text>
<rect x="155.90" y="338.40" width="12.47" height="12.10" fill="#7da7de" stroke="#3a5580" stroke-width="0.5"/>
<rect x="168.37" y="314.20" width="12.47" height="36.30" fill="#7da7de" stroke="#3a5580" stroke-width="0.5"/>
<rect x="180.84" y="326.30" width="12.47" height="24.20" fill="#7da7de" stroke="#3a5580" stroke-width="0.5"/>
<rect x="193.31" y="302.10" width="12.47" height="48.40" fill="#7da7de" stroke="#3a5580" stroke-width="0.5"/>
<rect x="205.78" y="338.40" width="12.47" height="12.10" fill="#7da7de" stroke="#3a5580" stroke-width="0.5"/>
<rect x="218.25" y="326.30" width="12.47" height="24.20" fill="#7da7de" stroke="#3a5580" stroke-width="0.5"/>
<rect x="230.72" y="338.40" width="12.47" height="12.10" fill="#7da7de" stroke="#3a5580" stroke-width="0.5"/>
<rect x="243.19" y="338.40" width="12.47" height="12.10" fill="#7da7de" stroke="#3a5580" stroke-width="0.5"/>
<text x="150.00" y="352.00" font-size="4.4" text-anchor="end" fill="#2c2c2c" stroke="#2c2c2c" stroke-width="0.07">0</text>
<text x="150.00" y="339.90" font-size="4.4" text-anchor="end" fill="#2c2c2c" stroke="#2c2c2c" stroke-width="0.07">1</text>
<text x="150.00" y="327.80" font-size="4.4" text-anchor="end" fill="#2c2c2c" stroke="#2c2c2c" stroke-width="0.07">2</text>
<text x="150.00" y="315.70" font-size="4.4" text-anchor="end" fill="#2c2c2c" stroke="#2c2c2c" stroke-width="0.07">3</text>
<text x="150.00" y="303.60" font-size="4.4" text-anchor="end" fill="#2c2c2c" stroke="#2c2c2c" stroke-width="0.07">4</text>
<text x="162.14" y="355.90" font-size="3.95" text-anchor="middle" fill="#2c2c2c" stroke="#2c2c2c" stroke-width="0.07">-1.5</text>
<text x="174.61" y="355.90" font-size="3.95" text-anchor="middle" fill="#2c2c2c" stroke="#2c2c2c" stroke-width="0.07">-1.0</text>
<text x="187.08" y="355.90" font-size="3.95" text-anchor="middle" fill="#2c2c2c" stroke="#2c2c2c" stroke-width="0.07">-0.5</text>
<text x="199.55" y="355.90" font-size="3.95" text-anchor="middle" fill="#2c2c2c" stroke="#2c2c2c" stroke-width="0.07">0.0</text>
<text x="212.02" y="355.90" font-size="3.95" text-anchor="middle" fill="#2c2c2c" stroke="#2c2c2c" stroke-width="0.07">0.5</text>
<text x="224.49" y="355.90" font-size="3.95" text-anchor="middle" fill="#2c2c2c" stroke="#2c2c2c" stroke-width="0.07">1.0</text>
<text x="236.96" y="355.90" font-size="3.95" text-anchor="middle" fill="#2c2c2c" stroke="#2c2c2c" stroke-width="0.07">1.5</text>
<text x="249.43" y="355.90" font-size="3.95" text-anchor="middle" fill="#2c2c2c" stroke="#2c2c2c" stroke-width="0.07">2.0</text>
<text x="206.40" y="363.70" font-size="5.85" text-anchor="middle" fill="#1a1a1a" font-weight="bold" stroke="#1a1a1a" stroke-width="0.16">Residual</text>
<text x="143.40" y="324.85" font-size="5.85" text-anchor="middle" fill="#1a1a1a" font-weight="bold" stroke="#1a1a1a" stroke-width="0.16" transform="rotate(-90 143.40 324.85)">Frequency</text>
<rect x="285.60" y="299.20" width="110.30" height="50.90" fill="#fff" stroke="#b8b8b8" stroke-width="0.6"/>
<text x="340.75" y="294.70" font-size="5.85" text-anchor="middle" fill="#1a1a1a" font-weight="bold" stroke="#1a1a1a" stroke-width="0.16">Versus Order</text>
<line x1="285.60" y1="326.40" x2="395.90" y2="326.40" stroke="#a6a6a6" stroke-width="0.7" stroke-dasharray="2.0 1.6"/>
<text x="283.60" y="305.10" font-size="4.7" text-anchor="end" fill="#2c2c2c" stroke="#2c2c2c" stroke-width="0.07">2</text>
<text x="283.60" y="316.50" font-size="4.7" text-anchor="end" fill="#2c2c2c" stroke="#2c2c2c" stroke-width="0.07">1</text>
<text x="283.60" y="327.90" font-size="4.7" text-anchor="end" fill="#2c2c2c" stroke="#2c2c2c" stroke-width="0.07">0</text>
<text x="283.60" y="339.30" font-size="4.7" text-anchor="end" fill="#2c2c2c" stroke="#2c2c2c" stroke-width="0.07">-1</text>
<text x="283.60" y="350.70" font-size="4.7" text-anchor="end" fill="#2c2c2c" stroke="#2c2c2c" stroke-width="0.07">-2</text>
<text x="288.50" y="355.70" font-size="4.7" text-anchor="middle" fill="#2c2c2c" stroke="#2c2c2c" stroke-width="0.07">1</text>
<text x="295.94" y="355.70" font-size="4.7" text-anchor="middle" fill="#2c2c2c" stroke="#2c2c2c" stroke-width="0.07">2</text>
<text x="303.38" y="355.70" font-size="4.7" text-anchor="middle" fill="#2c2c2c" stroke="#2c2c2c" stroke-width="0.07">3</text>
<text x="310.82" y="355.70" font-size="4.7" text-anchor="middle" fill="#2c2c2c" stroke="#2c2c2c" stroke-width="0.07">4</text>
<text x="318.26" y="355.70" font-size="4.7" text-anchor="middle" fill="#2c2c2c" stroke="#2c2c2c" stroke-width="0.07">5</text>
<text x="325.70" y="355.70" font-size="4.7" text-anchor="middle" fill="#2c2c2c" stroke="#2c2c2c" stroke-width="0.07">6</text>
<text x="333.14" y="355.70" font-size="4.7" text-anchor="middle" fill="#2c2c2c" stroke="#2c2c2c" stroke-width="0.07">7</text>
<text x="340.58" y="355.70" font-size="4.7" text-anchor="middle" fill="#2c2c2c" stroke="#2c2c2c" stroke-width="0.07">8</text>
<text x="348.02" y="355.70" font-size="4.7" text-anchor="middle" fill="#2c2c2c" stroke="#2c2c2c" stroke-width="0.07">9</text>
<text x="355.46" y="355.70" font-size="4.7" text-anchor="middle" fill="#2c2c2c" stroke="#2c2c2c" stroke-width="0.07">10</text>
<text x="362.90" y="355.70" font-size="4.7" text-anchor="middle" fill="#2c2c2c" stroke="#2c2c2c" stroke-width="0.07">11</text>
<text x="370.34" y="355.70" font-size="4.7" text-anchor="middle" fill="#2c2c2c" stroke="#2c2c2c" stroke-width="0.07">12</text>
<text x="377.78" y="355.70" font-size="4.7" text-anchor="middle" fill="#2c2c2c" stroke="#2c2c2c" stroke-width="0.07">13</text>
<text x="385.22" y="355.70" font-size="4.7" text-anchor="middle" fill="#2c2c2c" stroke="#2c2c2c" stroke-width="0.07">14</text>
<text x="392.66" y="355.70" font-size="4.7" text-anchor="middle" fill="#2c2c2c" stroke="#2c2c2c" stroke-width="0.07">15</text>
<text x="340.75" y="363.50" font-size="5.85" text-anchor="middle" fill="#1a1a1a" font-weight="bold" stroke="#1a1a1a" stroke-width="0.16">Observation Order</text>
<text x="274.00" y="324.65" font-size="5.85" text-anchor="middle" fill="#1a1a1a" font-weight="bold" stroke="#1a1a1a" stroke-width="0.16" transform="rotate(-90 274.00 324.65)">Residual</text>
<polyline fill="none" stroke="#2f74bd" stroke-width="0.7" points="288.50,337.00 295.94,317.39 303.38,328.05 310.82,331.60 318.26,326.86 325.70,328.05 333.14,315.54 340.58,333.96 348.02,337.00 355.46,325.72 362.90,319.33 370.34,343.84 377.78,340.31 385.22,308.44 392.66,301.35"/>
<circle cx="288.50" cy="337.00" r="1.22" fill="#0a439b"/>
<circle cx="295.94" cy="317.39" r="1.22" fill="#0a439b"/>
<circle cx="303.38" cy="328.05" r="1.22" fill="#0a439b"/>
<circle cx="310.82" cy="331.60" r="1.22" fill="#0a439b"/>
<circle cx="318.26" cy="326.86" r="1.22" fill="#0a439b"/>
<circle cx="325.70" cy="328.05" r="1.22" fill="#0a439b"/>
<circle cx="333.14" cy="315.54" r="1.22" fill="#0a439b"/>
<circle cx="340.58" cy="333.96" r="1.22" fill="#0a439b"/>
<circle cx="348.02" cy="337.00" r="1.22" fill="#0a439b"/>
<circle cx="355.46" cy="325.72" r="1.22" fill="#0a439b"/>
<circle cx="362.90" cy="319.33" r="1.22" fill="#0a439b"/>
<circle cx="370.34" cy="343.84" r="1.22" fill="#0a439b"/>
<circle cx="377.78" cy="340.31" r="1.22" fill="#0a439b"/>
<circle cx="385.22" cy="308.44" r="1.22" fill="#0a439b"/>
<circle cx="392.66" cy="301.35" r="1.22" fill="#0a439b"/>
</svg>
</body></html>
